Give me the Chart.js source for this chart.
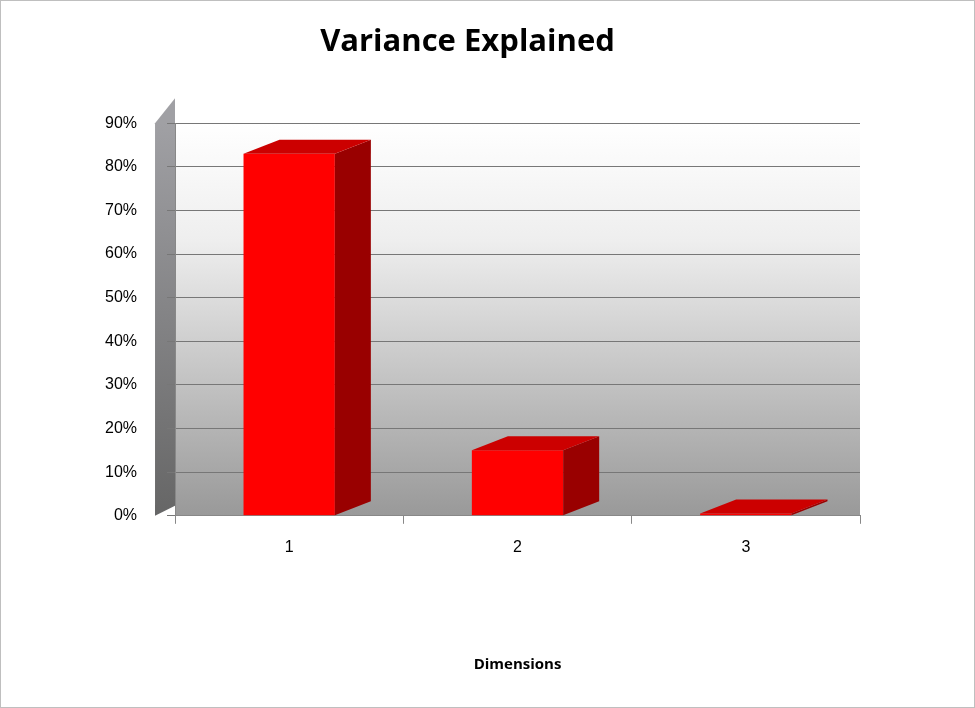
<!DOCTYPE html>
<html><head><meta charset="utf-8">
<script src="https://cdn.jsdelivr.net/npm/chart.js@4/dist/chart.umd.min.js"></script>
<style>html,body{margin:0;padding:0;background:#fff}#w{width:975px;height:708px}</style>
</head><body><div id="w"><canvas id="c"></canvas></div>
<script>
const categories = ["1","2","3"];
const varianceValues = [0.83, 0.15, 0.005];
const yTicks = [0,0.1,0.2,0.3,0.4,0.5,0.6,0.7,0.8,0.9];

const DX = 36, DY = -14;
const deco = {
  id:'deco',
  beforeDraw(chart){
    const {ctx, chartArea:a} = chart;
    ctx.save();
    ctx.fillStyle='#fff'; ctx.fillRect(0,0,chart.width,chart.height);
    ctx.strokeStyle='#bfbfbf'; ctx.lineWidth=1; ctx.strokeRect(0.5,0.5,chart.width-1,chart.height-1);
    const g = ctx.createLinearGradient(0,a.top,0,a.bottom);
    g.addColorStop(0,'#ffffff'); g.addColorStop(0.3,'#eeeeee'); g.addColorStop(1,'#999999');
    ctx.fillStyle=g; ctx.fillRect(a.left,a.top,a.right-a.left,a.bottom-a.top);
    const lg = ctx.createLinearGradient(0,a.top,0,a.bottom);
    lg.addColorStop(0,'#a0a0a4'); lg.addColorStop(1,'#666');
    ctx.fillStyle=lg;
    ctx.beginPath(); ctx.moveTo(a.left-20,a.top); ctx.lineTo(a.left,a.top-25); ctx.lineTo(a.left,a.bottom-10); ctx.lineTo(a.left-20,a.bottom); ctx.closePath(); ctx.fill();
    ctx.restore();
  },
  afterDatasetsDraw(chart){
    const {ctx} = chart;
    chart.getDatasetMeta(0).data.forEach(b=>{
      const l=b.x-b.width/2, r=b.x+b.width/2, t=b.y, bt=b.base;
      ctx.fillStyle='#990000';
      ctx.beginPath(); ctx.moveTo(r,t); ctx.lineTo(r+DX,t+DY); ctx.lineTo(r+DX,bt+DY); ctx.lineTo(r,bt); ctx.closePath(); ctx.fill();
      ctx.fillStyle='#cc0000';
      ctx.beginPath(); ctx.moveTo(l,t); ctx.lineTo(l+DX,t+DY); ctx.lineTo(r+DX,t+DY); ctx.lineTo(r,t); ctx.closePath(); ctx.fill();
    });
  }
};

new Chart(document.getElementById('c'),{
  type:'bar',
  data:{labels:categories,datasets:[{data:varianceValues,backgroundColor:'#ff0000',barPercentage:0.4,categoryPercentage:1}]},
  options:{
    responsive:true,maintainAspectRatio:false,animation:false,
    layout:{padding:{left:75,right:115,top:10,bottom:30}},
    plugins:{legend:{display:false},tooltip:{enabled:false},
      title:{display:true,text:'Variance Explained',color:'#000',font:{family:'Open Sans',size:31,weight:'bold'},padding:{top:14,bottom:62}}},
    scales:{
      x:{grid:{display:true,color:'#888',drawOnChartArea:false,tickLength:8,offset:true},border:{color:'#888'},
        ticks:{color:'#000',font:{family:'Liberation Sans',size:16},padding:14},
        title:{display:true,text:'Dimensions',color:'#000',font:{family:'Open Sans',size:15,weight:'bold'},padding:{top:85}}},
      y:{min:0,max:0.9,afterBuildTicks(ax){ax.ticks=yTicks.map(v=>({value:v}));},
        grid:{color:'#777'},border:{color:'#888'},
        ticks:{color:'#000',font:{family:'Liberation Sans',size:16},padding:30,callback:v=>Math.round(v*100)+'%'}}
    }
  },
  plugins:[deco]
});
</script></body></html>
